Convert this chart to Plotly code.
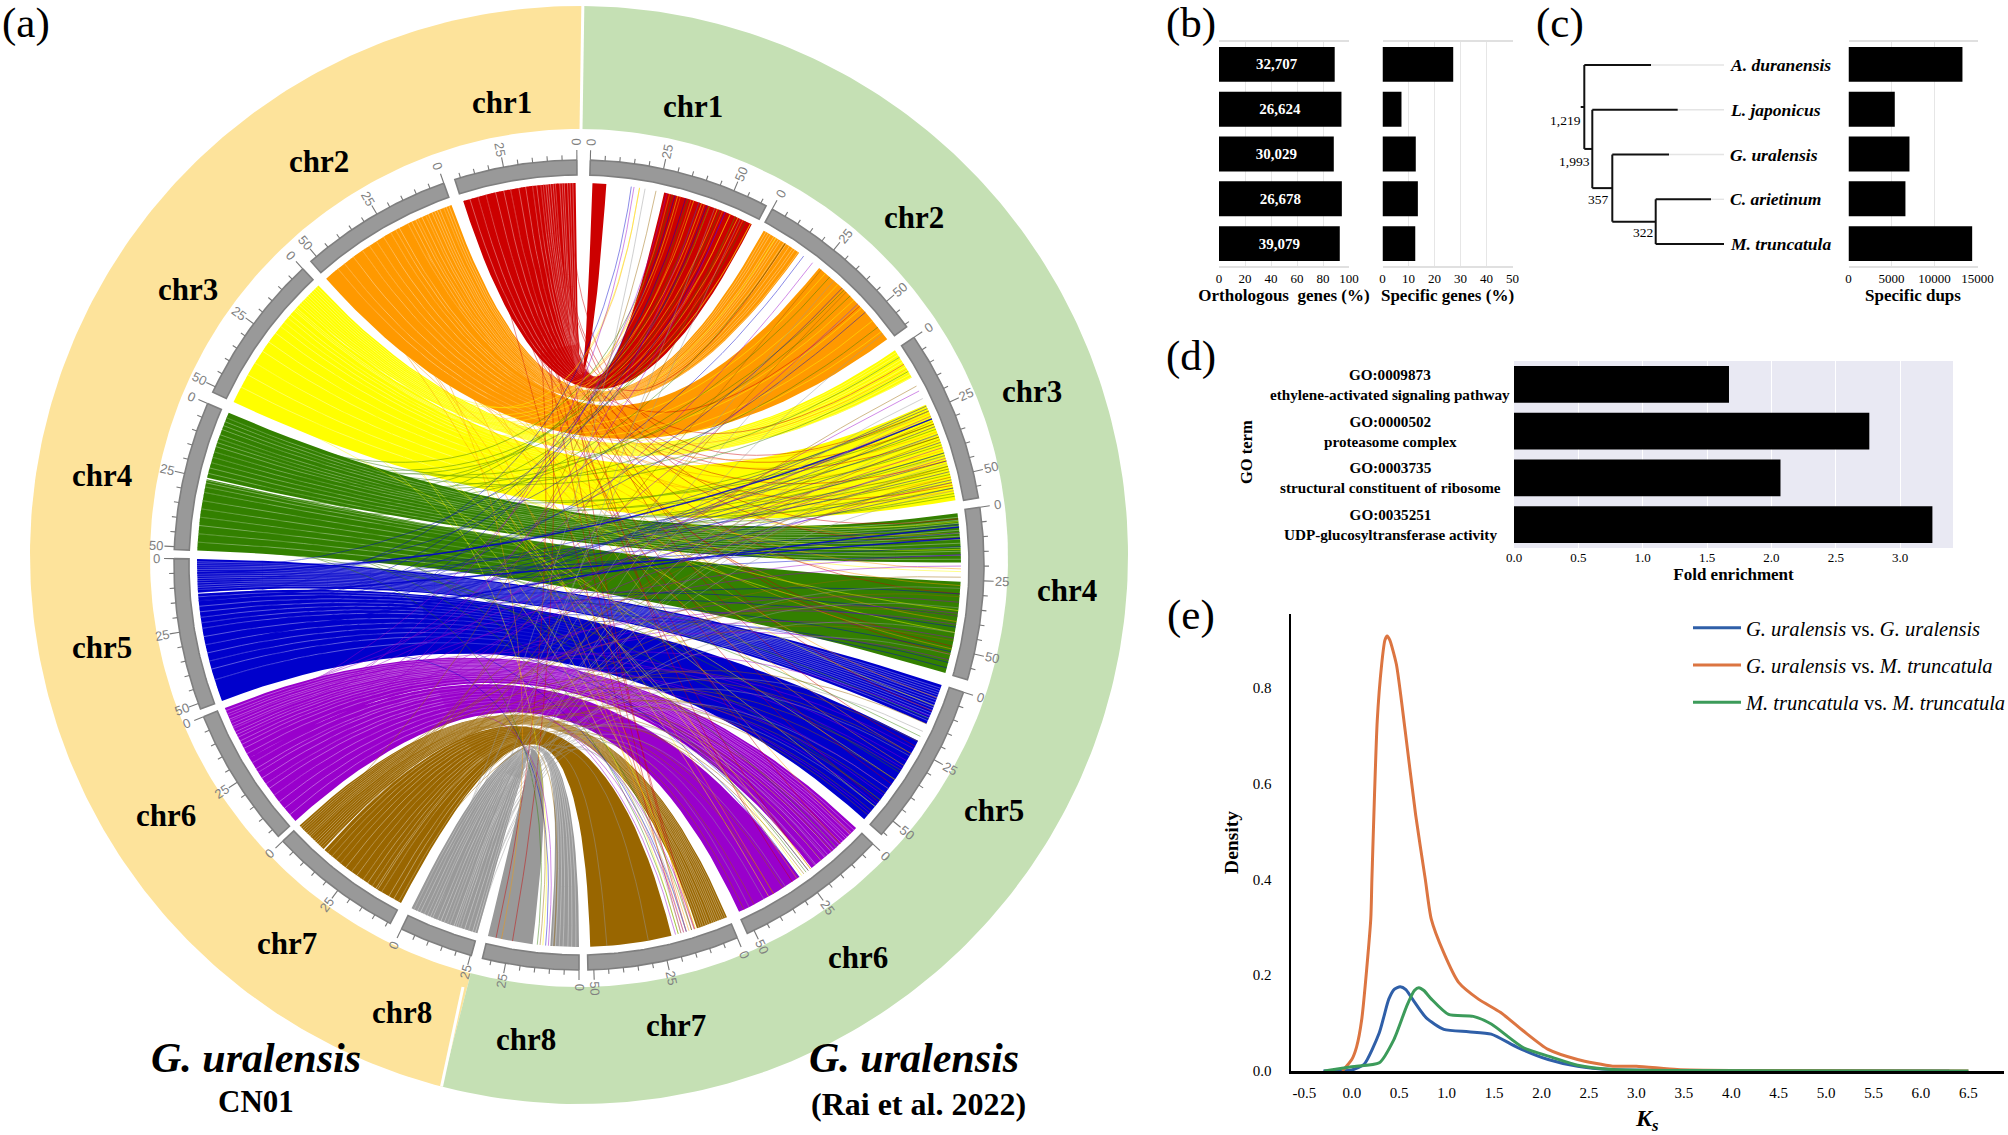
import numpy as np
import plotly.graph_objects as go

# ------------------------------ DATA ------------------------------
CHROMS = ["chr1", "chr2", "chr3", "chr4", "chr5", "chr6", "chr7", "chr8"]
L_CHR_LEN = [42, 52.5, 52, 51, 52, 48, 46, 25.3]
R_CHR_LEN = [62, 61, 59, 59, 56, 52.5, 52, 33]

# syntenic blocks: (left start, left end, right start, right end) in Mb
BLOCKS = {
    "chr1": [(0.5, 7, 1, 6), (7, 41.5, 27, 60.5)],
    "chr2": [(0, 16, 1, 16), (16, 52.5, 25, 60.5)],
    "chr3": [(0, 10, 0, 11.5), (10, 52, 22.5, 58.5)],
    "chr4": [(0, 24.6, 1, 18.7), (25.2, 51, 25.6, 58.9)],
    "chr5": [(0, 12, 0, 15), (12.5, 52, 21.8, 56)],
    "chr6": [(0, 20, 0, 21.5), (20, 48, 27, 52)],
    "chr7": [(0, 12, 0.5, 12), (12.5, 46, 21.5, 51)],
    "chr8": [(0, 9, 0, 10.3), (9, 25.3, 16.7, 33)],
}
# unaligned stretches inside blocks (left Mb)
GAPS = {
    "chr1": [1.5, 2.5, 3.4, 4.6, 5.3, 6.2, 7.8, 8.6, 9.5, 10.4, 11.2, 12.1, 13, 14.5, 16, 18.5, 21, 24, 26.5, 29.5, 33, 36, 39],
    "chr2": [1, 2, 3, 4.5, 5.5, 6.5, 7.5, 9, 10, 11.5, 13, 14, 15.5, 17, 20.5, 22, 24, 27, 30, 33, 36, 40, 44, 47],
    "chr3": [0.8, 1.7, 2.6, 3.5, 4.4, 5.3, 6.2, 7.1, 8, 8.9, 9.8, 11.2, 11.9, 12.5, 14.5, 16, 18, 20, 23, 27, 31, 36, 41, 46],
    "chr4": [2, 3.5, 5, 6.5, 8.5, 10, 11.5, 13, 15, 17, 19, 21, 23, 25.6, 26.5, 28, 30, 33, 36, 39, 42, 45, 48],
    "chr5": [1, 1.7, 2.4, 3.1, 3.8, 4.6, 5.4, 6.2, 7, 7.8, 8.6, 9.4, 10.2, 11, 13.6, 15, 17, 19, 21, 23, 25, 28, 31, 34, 37, 40, 44],
    "chr6": [1, 2.2, 3.1, 4.3, 5, 6.1, 7.2, 8, 9.3, 10.4, 11.5, 13, 14.4, 16, 18.2, 22, 24.5, 26, 28.5, 31, 33, 36, 39, 42, 45],
    "chr7": [0.7, 1.5, 2.2, 3, 3.8, 4.6, 5.3, 6, 7, 7.8, 8.6, 9.5, 10.3, 11.2, 14, 16, 18, 20, 22.4, 25, 27.3, 30, 32, 34, 35.6, 36.3, 38, 41, 43, 45],
    "chr8": [1, 2.3, 3.5, 5, 6.2, 7.4, 8.3, 10.2, 11.5, 12.8, 14, 15, 16.5, 17.2, 18, 19, 20.5, 22, 23.5, 24.5],
}
# inter-chromosomal links: (left Mb, right chromosome, right Mb)
CROSS_LINKS = {
    "chr1": [(30, 2, 45), (12, 2, 10), (8, 3, 6), (20, 3, 30), (33, 3, 44), (16, 4, 10), (25, 4, 30), (38, 4, 49),
             (10, 5, 10), (28, 5, 40), (5, 6, 30), (18, 6, 22), (7, 7, 14), (22, 7, 16), (36, 7, 18), (14, 8, 24),
             (3, 3, 25), (26, 3, 35), (41, 3, 53), (9, 4, 3), (31, 4, 52), (13, 5, 24), (35, 5, 48), (24, 6, 8),
             (17, 7, 12.8), (19, 8, 30)],
    "chr2": [(8, 1, 42), (18, 1, 52), (26, 1, 57), (36, 1, 33), (44, 1, 18), (12, 3, 26), (24, 3, 40), (39, 3, 8),
             (47, 3, 50), (5, 4, 8), (30, 4, 21), (42, 4, 40), (16, 5, 5), (34, 5, 32), (22, 6, 28), (10, 6, 3),
             (27, 7, 13), (40, 7, 15), (31, 8, 28), (3, 1, 29), (13, 1, 37), (21, 1, 44), (33, 1, 49), (48, 1, 60),
             (7, 3, 33), (17, 3, 47), (29, 3, 55), (35, 4, 27), (50, 4, 50), (20, 5, 27), (41, 6, 38), (46, 7, 17)],
    "chr3": [(5, 1, 18), (12, 1, 38), (21, 1, 47), (40, 1, 55), (8, 2, 28), (18, 2, 34), (30, 2, 52), (44, 2, 6),
             (14, 4, 14), (36, 4, 36), (26, 4, 44), (9, 5, 8), (33, 5, 50), (16, 6, 26), (24, 6, 22), (28, 7, 12.5),
             (38, 7, 19), (20, 8, 13), (3, 1, 32), (17, 1, 41), (29, 1, 52), (35, 1, 60), (47, 2, 42), (11, 2, 46),
             (25, 2, 57), (6, 4, 4), (42, 4, 22), (50, 5, 38), (4, 6, 40)],
    "chr4": [(4, 1, 30), (11, 1, 58), (19, 1, 44), (33, 1, 36), (7, 2, 40), (15, 2, 55), (28, 2, 30), (44, 2, 10),
             (2, 3, 3), (6, 3, 9), (12, 3, 32), (20, 3, 38), (26, 3, 46), (34, 3, 52), (40, 3, 56), (48, 3, 42),
             (22, 5, 13), (31, 5, 35), (37, 6, 24), (45, 6, 10), (29, 7, 14), (41, 7, 19), (47, 8, 15), (9, 1, 48),
             (24, 1, 40), (38, 1, 54), (17, 2, 37), (30, 3, 25), (16, 3, 30), (24, 3, 35), (36, 3, 41), (43, 3, 47),
             (46, 3, 49), (10, 3, 54), (18, 3, 57), (39, 5, 20), (50, 5, 47)],
    "chr5": [(3, 1, 50), (14, 1, 15), (24, 1, 35), (9, 2, 18), (21, 2, 48), (33, 2, 36), (6, 3, 24), (16, 3, 34),
             (27, 3, 37), (38, 3, 28), (46, 3, 54), (11, 3, 48), (2, 4, 5), (8, 4, 13), (18, 4, 16), (30, 4, 42),
             (42, 4, 30), (50, 4, 55), (13, 6, 27), (35, 6, 23), (25, 7, 16), (44, 8, 12), (20, 3, 41), (31, 3, 44),
             (41, 3, 51), (35, 3, 31), (48, 3, 23), (12, 4, 8), (23, 4, 38), (26, 4, 51), (37, 4, 57), (47, 1, 31),
             (29, 1, 43)],
    "chr6": [(6, 1, 28), (17, 1, 16), (32, 1, 40), (12, 2, 22), (26, 2, 44), (3, 3, 27), (21, 3, 43), (40, 3, 17),
             (10, 4, 20), (30, 4, 33), (44, 4, 46), (5, 5, 30), (15, 5, 45), (25, 5, 12), (37, 5, 25), (8, 7, 20),
             (19, 7, 17), (34, 7, 13), (43, 8, 11), (9, 3, 39), (28, 3, 52), (2, 4, 16), (22, 4, 41), (36, 4, 54),
             (46, 4, 37), (11, 5, 33), (20, 5, 42), (31, 5, 49), (41, 5, 53), (24, 1, 50)],
    "chr7": [(4, 1, 24), (20, 1, 54), (14, 2, 26), (33, 2, 38), (9, 3, 15), (24, 3, 50), (38, 3, 29), (6, 4, 24),
             (27, 4, 47), (2, 5, 22), (12, 5, 38), (18, 5, 52), (30, 5, 15), (42, 5, 44), (7, 6, 12), (16, 6, 25),
             (23, 6, 34), (35, 6, 46), (44, 6, 23), (11, 8, 14), (10, 3, 46), (21, 3, 36), (3, 4, 38), (34, 4, 31),
             (8, 5, 27), (15, 5, 47), (25, 5, 34), (37, 5, 54), (13, 6, 8), (20, 6, 17), (29, 6, 38), (40, 6, 50),
             (45, 8, 9)],
    "chr8": [(5, 1, 20), (15, 1, 46), (2, 2, 32), (20, 2, 58), (7, 3, 20), (12, 3, 45), (22, 3, 34), (3, 4, 28),
             (18, 4, 52), (9, 5, 18), (14, 5, 42), (4, 6, 15), (17, 6, 42), (1, 7, 30), (10, 7, 45), (24, 7, 18),
             (13, 7, 16), (6, 3, 42), (16, 3, 25), (21, 3, 55), (11, 4, 35), (23, 4, 44), (8, 5, 28), (19, 5, 50),
             (2, 6, 20), (12, 6, 33), (25, 6, 48), (6, 1, 56), (14, 2, 44)],
}
STRONG_LINKS = {"chr5": [(5, 3, 28), (15, 4, 10), (32, 4, 6)]}

GENE_COUNTS = ["32,707", "26,624", "30,029", "26,678", "39,079"]
ORTHOLOGOUS_PCT = [89, 94.2, 88.3, 94.5, 92.9]
SPECIFIC_PCT = [27.2, 7.3, 12.8, 13.6, 12.6]
SPECIES = ["A. duranensis", "L. japonicus", "G. uralensis", "C. arietinum", "M. truncatula"]
SPECIFIC_DUPS = [13250, 5380, 7090, 6620, 14380]
# tree: depth of each internal node and of each tip's dark branch end
NODE_DEPTH = [3.6, 11.6, 31.6, 75]
NODE_LABELS = ["1,219", "1,993", "357", "322"]
TIP_DEPTH = [70.3, 97, 88.3, 130.3, 143.3]

GO_TERMS = ["GO:0009873<br>ethylene-activated signaling pathway", "GO:0000502<br>proteasome complex",
            "GO:0003735<br>structural constituent of ribosome", "GO:0035251<br>UDP-glucosyltransferase activity"]
FOLD_ENRICHMENT = [1.67, 2.76, 2.07, 3.25]

KS_TICKS = ["-0.5", "0.0", "0.5", "1.0", "1.5", "2.0", "2.5", "3.0", "3.5", "4.0", "4.5", "5.0", "5.5", "6.0", "6.5"]
GU_GU_X = [-0.3, 0, 0.13, 0.29, 0.39, 0.45, 0.51, 0.57, 0.63, 0.785, 0.97, 1.23, 1.47, 1.75, 2.07, 2.38, 2.75, 3.5, 6.3]
GU_GU_Y = [0, 0.002, 0.014, 0.08, 0.15, 0.171, 0.176, 0.17, 0.153, 0.111, 0.087, 0.082, 0.077, 0.049, 0.024, 0.01, 0.003, 0.001, 0]
GU_MT_X = [-0.1, 0, 0.05, 0.105, 0.2, 0.212, 0.268, 0.315, 0.35, 0.373, 0.4, 0.47, 0.563, 0.673, 0.775, 0.838, 0.969, 1.126, 1.335, 1.57, 1.806, 2.07, 2.38, 2.75, 3.0, 3.43, 4, 6.5]
GU_MT_Y = [0, 0.024, 0.05, 0.108, 0.317, 0.4, 0.73, 0.849, 0.9, 0.908, 0.9, 0.849, 0.71, 0.535, 0.4, 0.317, 0.247, 0.185, 0.15, 0.122, 0.084, 0.045, 0.024, 0.01, 0.01, 0.003, 0.001, 0]
MT_MT_X = [-0.29, 0, 0.29, 0.445, 0.58, 0.66, 0.707, 0.76, 0.84, 1.02, 1.28, 1.47, 1.806, 2.12, 2.38, 2.75, 3.5, 6.5]
MT_MT_Y = [0, 0.009, 0.017, 0.066, 0.136, 0.168, 0.174, 0.168, 0.15, 0.118, 0.114, 0.098, 0.049, 0.028, 0.012, 0.003, 0.001, 0]

# ------------------------------ LAYOUT ------------------------------
W, H = 2008, 1135
SERIF = "Liberation Serif"
CX, CY = 579.0, 565.0
R_OUT, R_IN, R_RIB = 405.0, 390.0, 382.0
DEG_PER_MB = 0.418
L_START = [-0.3, -19.5, -43, -66.5, -89.1, -112, -133, -154]
R_START = [1.6, 28.5, 55.8, 81.8, 108.3, 133.5, 157, 180]
CHR_COLORS = ["#CC0000", "#FF9900", "#FFFF00", "#338000", "#0000CC", "#9900CC", "#996600", "#999999"]
FADE_STEPS = [(0.0, 0.3, 0.5), (0.3, 0.42, 0.28), (0.42, 0.52, 0.12)]


def domx(a, b):
    return [a / W, min(b / W, 1)]


def domy(top, bottom):
    return [1 - bottom / H, 1 - top / H]


def polar(theta_deg, r, cx=CX, cy=CY):
    t = np.radians(theta_deg)
    return cx + r * np.sin(t), cy - r * np.cos(t)


def lang(i, mb):
    return L_START[i] - DEG_PER_MB * mb


def rang(i, mb):
    return R_START[i] + DEG_PER_MB * mb


def bezier(a0, a1, t0=0.0, t1=1.0, n=36):
    t = np.linspace(t0, t1, n)
    x0, y0 = polar(a0, R_RIB)
    x1, y1 = polar(a1, R_RIB)
    x = (1 - t) ** 2 * x0 + 2 * t * (1 - t) * CX + t ** 2 * x1
    y = (1 - t) ** 2 * y0 + 2 * t * (1 - t) * CY + t ** 2 * y1
    return x, y


def ribbon(la, lb, ra, rb):
    x1, y1 = bezier(la, ra)
    ax, ay = polar(np.linspace(ra, rb, 12), R_RIB)
    x2, y2 = bezier(rb, lb)
    bx, by = polar(np.linspace(lb, la, 12), R_RIB)
    return np.r_[x1, ax, x2, bx], np.r_[y1, ay, y2, by]


def join(paths):
    xs, ys = [], []
    for x, y in paths:
        xs += list(x) + [None]
        ys += list(y) + [None]
    return xs, ys


fig = go.Figure()


def overlay(x, y, **kw):
    fig.add_trace(go.Scatter(x=x, y=y, xaxis="x", yaxis="y", hoverinfo="skip", showlegend=False, **kw))


def wedge(a0, a1, color):
    px, py = polar(np.linspace(a0, a1, 220), 549, 579, 555)
    overlay(np.r_[579, px], np.r_[555, py], mode="lines", fill="toself", fillcolor=color, line=dict(width=0))


# coloured ring and white disc
wedge(-165.5, 0.4, "#FDE39B")
wedge(0.4, 194.5, "#C5E0B4")
overlay(*polar(np.linspace(0, 360, 361), 429, 579, 558), mode="lines", fill="toself", fillcolor="white", line=dict(width=0))
p1 = polar(0.4, 549, 579, 555)
p2 = polar(194.5, 549, 579, 555)
overlay([p1[0], 581, None, p2[0], 463], [p1[1], 130, None, p2[1], 987], mode="lines", line=dict(color="white", width=3))

# ribbons, with their gaps
for i, ch in enumerate(CHROMS):
    paths = []
    for la, lb, ra, rb in BLOCKS[ch]:
        paths.append(ribbon(lang(i, la), lang(i, lb), rang(i, ra), rang(i, rb)))
    xs, ys = join(paths)
    overlay(xs, ys, mode="lines", fill="toself", fillcolor=CHR_COLORS[i], line=dict(width=0))
    first, second = BLOCKS[ch]
    pairs = []
    for g in GAPS[ch]:
        blk = first if g <= first[1] else second
        rpos = blk[2] + (g - blk[0]) / (blk[1] - blk[0]) * (blk[3] - blk[2])
        pairs.append((lang(i, g), rang(i, rpos), blk is first and i != 0))
    full = [bezier(a0, a1) for a0, a1, whole in pairs if whole]
    if full:
        xs, ys = join(full)
        overlay(xs, ys, mode="lines", line=dict(color="white", width=0.7), opacity=0.45)
    for t0, t1, op in FADE_STEPS:
        part = [bezier(a0, a1, t0, t1, 14) for a0, a1, whole in pairs if not whole]
        xs, ys = join(part)
        overlay(xs, ys, mode="lines", line=dict(color="white", width=0.7), opacity=op)

# inter-chromosomal links
for i, ch in enumerate(CHROMS):
    paths = [bezier(lang(i, lp), rang(rc - 1, rp)) for lp, rc, rp in CROSS_LINKS[ch]]
    xs, ys = join(paths)
    overlay(xs, ys, mode="lines", line=dict(color=CHR_COLORS[i], width=0.75), opacity=0.6)
    if ch in STRONG_LINKS:
        paths = [bezier(lang(i, lp), rang(rc - 1, rp)) for lp, rc, rp in STRONG_LINKS[ch]]
        xs, ys = join(paths)
        overlay(xs, ys, mode="lines", line=dict(color=CHR_COLORS[i], width=1.5), opacity=0.85)

# ideograms and ticks
annotations = []
for side, starts, lens, angf in (("L", L_START, L_CHR_LEN, lang), ("R", R_START, R_CHR_LEN, rang)):
    polys, minor, major = [], [], []
    for i, ln in enumerate(lens):
        arc = np.linspace(angf(i, 0), angf(i, ln), 40)
        ox, oy = polar(arc, R_OUT)
        ix, iy = polar(arc[::-1], R_IN)
        polys.append((np.r_[ox, ix, ox[0]], np.r_[oy, iy, oy[0]]))
        for mb in range(0, int(ln) + 1, 5):
            th = angf(i, mb)
            is_major = mb % 25 == 0
            x0, y0 = polar(th, R_OUT)
            x1, y1 = polar(th, R_OUT + (10 if is_major else 5))
            (major if is_major else minor).append(([x0, x1], [y0, y1]))
            if is_major:
                tx, ty = polar(th, 423)
                norm = ((th + 180) % 360) - 180
                rot = norm - 90 if norm >= 0 else norm + 90
                annotations.append(dict(x=tx, y=ty, xref="x", yref="y", text=str(mb), showarrow=False, textangle=rot,
                                        xanchor="center", yanchor="middle",
                                        font=dict(family="Liberation Sans", size=13, color="#808080")))
    xs, ys = join(polys)
    overlay(xs, ys, mode="lines", fill="toself", fillcolor="#999999", line=dict(color="#7F7F7F", width=1.6))
    xs, ys = join(major + minor)
    overlay(xs, ys, mode="lines", line=dict(color="#777777", width=1.1))

K = W / 1568


def txt(x, y, s, size, **kw):
    annotations.append(dict(x=x * K / W, y=1 - y * K / H, xref="paper", yref="paper", text=s, showarrow=False,
                            xanchor="center", yanchor="middle",
                            font=dict(family=SERIF, size=size, color="black"), **kw))


for name, p in zip(CHROMS, [(392, 80), (249, 126), (147, 226), (80, 371), (80, 506), (130, 637), (224, 737), (314, 791)]):
    txt(p[0], p[1], f"<b>{name}</b>", 31)
for name, p in zip(CHROMS, [(541, 83), (714, 170), (806, 306), (833, 461), (776, 633), (670, 748), (528, 801), (411, 812)]):
    txt(p[0], p[1], f"<b>{name}</b>", 31)
txt(200, 826, "<b><i>G. uralensis</i></b>", 42)
txt(200, 860, "<b>CN01</b>", 31)
txt(714, 826, "<b><i>G. uralensis</i></b>", 42)
txt(717, 862, "<b>(Rai et al. 2022)</b>", 32)
for s, p in zip(["(a)", "(b)", "(c)", "(d)", "(e)"], [(20, 18), (930, 18), (1218, 18), (930, 278), (930, 480)]):
    txt(p[0], p[1], s, 43)

# panel b
BAR = dict(marker=dict(color="black", line=dict(width=0)), orientation="h", showlegend=False, hoverinfo="skip")
rows = list(range(5))
fig.add_trace(go.Bar(x=ORTHOLOGOUS_PCT, y=rows, xaxis="x2", yaxis="y2", text=GENE_COUNTS, textposition="inside",
                     insidetextanchor="middle", textangle=0,
                     textfont=dict(family=SERIF, size=15, color="white", weight="bold"), **BAR))
fig.add_trace(go.Bar(x=SPECIFIC_PCT, y=rows, xaxis="x3", yaxis="y3", **BAR))
# panel c
fig.add_trace(go.Bar(x=SPECIFIC_DUPS, y=rows, xaxis="x4", yaxis="y4", **BAR))

# tree built from the node depths and tip rows
n_root, n2, n3, n4 = NODE_DEPTH
y_n4 = (3 + 4) / 2
y_n3 = (2 + y_n4) / 2
y_n2 = (1 + y_n3) / 2
y_root = (0 + y_n2) / 2
dark = [([0, n_root], [y_root, y_root]), ([n_root, n_root], [0, y_n2]), ([n_root, TIP_DEPTH[0]], [0, 0]),
        ([n_root, n2], [y_n2, y_n2]), ([n2, n2], [1, y_n3]), ([n2, TIP_DEPTH[1]], [1, 1]),
        ([n2, n3], [y_n3, y_n3]), ([n3, n3], [2, y_n4]), ([n3, TIP_DEPTH[2]], [2, 2]),
        ([n3, n4], [y_n4, y_n4]), ([n4, n4], [3, 4]), ([n4, TIP_DEPTH[3]], [3, 3]), ([n4, TIP_DEPTH[4]], [4, 4])]
guides = [([TIP_DEPTH[j], TIP_DEPTH[4]], [j, j]) for j in range(4)]
xs, ys = join(guides)
fig.add_trace(go.Scatter(x=xs, y=ys, xaxis="x7", yaxis="y7", mode="lines", line=dict(color="#e4e4e4", width=1.4),
                         showlegend=False, hoverinfo="skip"))
xs, ys = join(dark)
fig.add_trace(go.Scatter(x=xs, y=ys, xaxis="x7", yaxis="y7", mode="lines", line=dict(color="#111111", width=2),
                         showlegend=False, hoverinfo="skip"))
for j, s in enumerate(SPECIES):
    annotations.append(dict(x=TIP_DEPTH[4] + 4, y=j, xref="x7", yref="y7", xanchor="left", yanchor="middle", showarrow=False,
                            text=f"<b><i>{s}</i></b>", font=dict(family=SERIF, size=17.5, color="black")))
for s, nx, ny, dx, dy in zip(NODE_LABELS, NODE_DEPTH, [y_root, y_n2, y_n3, y_n4], [-18.6, -18.3, -13.5, -12.7], [0.31, 0.285, 0.25, 0.25]):
    annotations.append(dict(x=nx + dx, y=ny + dy, xref="x7", yref="y7", showarrow=False, text=s, xanchor="center", yanchor="middle",
                            font=dict(family=SERIF, size=13.5, color="black")))

# panel d
d_rows = list(range(4))
fig.add_trace(go.Bar(x=FOLD_ENRICHMENT, y=d_rows, xaxis="x5", yaxis="y5", width=0.79, **BAR))
for j, s in enumerate(GO_TERMS):
    head, tail = s.split("<br>")
    annotations.append(dict(x=1390 / W, y=j, xref="paper", yref="y5", showarrow=False, xanchor="center", yanchor="middle",
                            text=f"<b>{head}<br>{tail}</b>", font=dict(family=SERIF, size=15.2, color="black")))
annotations.append(dict(x=1247 / W, y=1 - 452 / H, xref="paper", yref="paper", showarrow=False, textangle=-90,
                        xanchor="center", yanchor="middle",
                        text="<b>GO term</b>", font=dict(family=SERIF, size=16.5, color="black")))

# panel e
CURVES = [("<i>G. uralensis</i> vs. <i>G. uralensis</i>", GU_GU_X, GU_GU_Y, "#2F5FA8"),
          ("<i>G. uralensis</i> vs. <i>M. truncatula</i>", GU_MT_X, GU_MT_Y, "#DC7541"),
          ("<i>M. truncatula</i> vs. <i>M. truncatula</i>", MT_MT_X, MT_MT_Y, "#3C9B5A")]
for name, x, y, c in CURVES:
    fig.add_trace(go.Scatter(x=x, y=y, xaxis="x6", yaxis="y6", mode="lines", name=name, legendgroup=name,
                             line=dict(color=c, width=3, shape="spline", smoothing=0.6), hoverinfo="skip"))

tfont = dict(family=SERIF, size=13, color="black")
grid = dict(showgrid=True, gridcolor="#e6e6e6", gridwidth=1, zeroline=False, showline=True, linecolor="#e0e0e0",
            linewidth=1.5, mirror=True, ticks="", tickfont=tfont)
hidden = dict(visible=False, fixedrange=True)
title_font = dict(family=SERIF, size=17, color="black")


def bar_y(top, bottom):
    return dict(domain=domy(top, bottom), range=[4.5, -0.5], showticklabels=False, showgrid=False, zeroline=False,
                ticks="", showline=False)


fig.update_layout(
    width=W, height=H, autosize=False, margin=dict(l=0, r=0, t=0, b=0, pad=0, autoexpand=False),
    paper_bgcolor="white", plot_bgcolor="rgba(0,0,0,0)", bargap=0.22,
    annotations=annotations,
    xaxis=dict(domain=[0, 1], range=[0, W], **hidden),
    yaxis=dict(domain=[0, 1], range=[H, 0], **hidden),
    xaxis2=dict(domain=domx(1219, 1349), range=[0, 100], tickvals=[0, 20, 40, 60, 80, 100], anchor="y2",
                title=dict(text="<b>Orthologous  genes (%)</b>", font=title_font, standoff=4), **grid),
    yaxis2=dict(anchor="x2", **bar_y(42, 266)),
    xaxis3=dict(domain=domx(1382.5, 1512.5), range=[0, 50], tickvals=[0, 10, 20, 30, 40, 50], anchor="y3",
                title=dict(text="<b>Specific genes (%)</b>", font=title_font, standoff=4), **grid),
    yaxis3=dict(anchor="x3", **bar_y(42, 266)),
    xaxis4=dict(domain=domx(1848.5, 1977.5), range=[0, 15000], tickvals=[0, 5000, 10000, 15000],
                ticktext=["0", "5000", "10000", "15000"], anchor="y4",
                title=dict(text="<b>Specific dups</b>", font=title_font, standoff=4), **grid),
    yaxis4=dict(anchor="x4", **bar_y(42, 266)),
    xaxis5=dict(domain=domx(1514, 1953), range=[0, 3.41], tickvals=[0, 0.5, 1, 1.5, 2, 2.5, 3],
                ticktext=["0.0", "0.5", "1.0", "1.5", "2.0", "2.5", "3.0"], anchor="y5", showgrid=True,
                gridcolor="white", gridwidth=1, zeroline=False, showline=False, ticks="",
                tickfont=dict(family=SERIF, size=13, color="black"),
                title=dict(text="<b>Fold enrichment</b>", font=title_font, standoff=3)),
    yaxis5=dict(domain=domy(361, 548), range=[3.5, -0.5], anchor="x5", showticklabels=False, showgrid=False,
                zeroline=False, ticks=""),
    xaxis6=dict(domain=domx(1290.5, 2004), range=[-0.646, 6.875], tickvals=[float(v) for v in KS_TICKS], ticktext=KS_TICKS,
                anchor="y6", showgrid=False, zeroline=False, showline=True, linecolor="black", linewidth=3,
                ticks="outside", ticklen=6, tickcolor="rgba(0,0,0,0)", tickfont=dict(family=SERIF, size=15, color="black"),
                title=dict(text="<b><i>K<sub>s</sub></i></b>", font=dict(family=SERIF, size=24, color="black"), standoff=16)),
    yaxis6=dict(domain=domy(614, 1071), range=[0, 0.954], tickvals=[0, 0.2, 0.4, 0.6, 0.8],
                ticktext=["0.0", "0.2", "0.4", "0.6", "0.8"], anchor="x6", showgrid=False, zeroline=False, showline=True,
                linecolor="black", linewidth=2.2, ticks="outside", ticklen=14, tickcolor="rgba(0,0,0,0)",
                tickfont=dict(family=SERIF, size=15, color="black"),
                title=dict(text="<b>Density</b>", font=dict(family=SERIF, size=19.5, color="black"), standoff=9)),
    xaxis7=dict(domain=domx(1555, 1850), range=[1555 - 1580.7, 1850 - 1580.7], anchor="y7", **hidden),
    yaxis7=dict(domain=domy(42, 266), range=[4.49, -0.514], anchor="x7", **hidden),
    legend=dict(x=1688 / W, y=1 - 608 / H, xanchor="left", yanchor="top", bgcolor="rgba(0,0,0,0)", borderwidth=0,
                font=dict(family=SERIF, size=20.5, color="black"), itemwidth=48, tracegroupgap=7.5, traceorder="grouped"),
)
fig.update_xaxes(fixedrange=True)
fig.update_yaxes(fixedrange=True)
fig.add_shape(type="rect", xref="x5", yref="y5", x0=0, x1=3.41, y0=-0.5, y1=3.5, fillcolor="#E9E9F3", line=dict(width=0),
              layer="below")

fig.write_html("out.html", config=dict(displayModeBar=False), post_script="document.body.style.margin='0';")
